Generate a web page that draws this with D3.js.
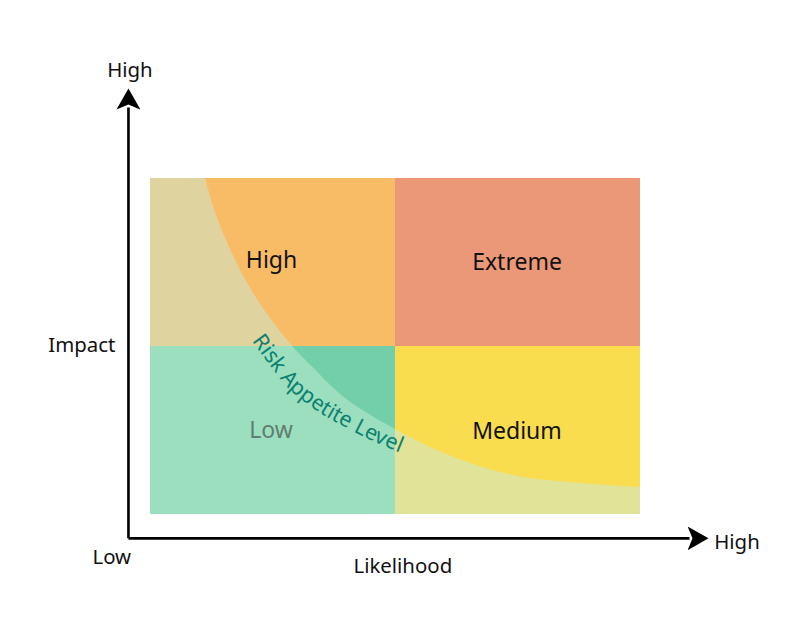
<!DOCTYPE html>
<html>
<head>
<meta charset="utf-8">
<script src="https://cdn.jsdelivr.net/npm/d3@7"></script>
<style>
  html, body { margin: 0; background: #fff; }
  text { font-family: "Noto Sans", sans-serif; }
</style>
</head>
<body>
<div id="chart"></div>
<script>
// cells of the matrix, in likelihood / impact units (0-10)
var cellNames = ['High', 'Extreme', 'Low', 'Medium']
var cellX0 = [0, 5, 0, 5]
var cellX1 = [5, 10, 5, 10]
var cellY0 = [5, 5, 0, 0]
var cellY1 = [10, 10, 5, 5]
var cellAbove = ['#f9bc66', '#eb9878', '#72cfa9', '#fadd4e']
var cellBelow = ['#dfd3a0', '#eb9878', '#9bdfbf', '#e1e398']
var labelX = [2.48, 7.49, 2.47, 7.49]
var labelY = [7.59, 7.53, 2.53, 2.50]
var labelColor = ['#111', '#111', '#5f7d70', '#111']

// the appetite curve
var curveX = [1.12, 1.37, 1.69, 2.04, 2.39, 2.92, 3.31, 3.98, 5.00, 6.06, 7.41, 8.78, 10]
var curveY = [10, 8.81, 7.71, 6.73, 5.95, 4.97, 4.38, 3.45, 2.53, 1.78, 1.16, 0.92, 0.80]

// baseline of the curved label
var captionX = [2.08, 2.55, 2.86, 3.47, 4.02, 4.59, 5.18]
var captionY = [5.15, 4.23, 3.69, 3.01, 2.56, 2.14, 1.78]

var width = 800, height = 640

var x = d3.scaleLinear().domain([0, 10]).range([150, 640])
var y = d3.scaleLinear().domain([0, 10]).range([514, 178])
// the axes run a bit further than the matrix
var xAxisScale = d3.scaleLinear().domain([-0.45, 11.0]).range([x(-0.45), x(11.0)])
var yAxisScale = d3.scaleLinear().domain([-0.71, 12.11]).range([y(-0.71), y(12.11)])

var svg = d3.select('#chart')
  .append('svg')
  .attr('width', width)
  .attr('height', height)
  .style('display', 'block')

var defs = svg.append('defs')
defs.append('marker')
  .attr('id', 'arrow')
  .attr('viewBox', '0 0 22 24')
  .attr('refX', 2)
  .attr('refY', 12)
  .attr('markerWidth', 22)
  .attr('markerHeight', 24)
  .attr('markerUnits', 'userSpaceOnUse')
  .attr('orient', 'auto')
  .append('path')
  .attr('d', 'M0,0 L21,12 L0,24 L5,12 Z')
  .attr('fill', '#000')

cellNames.forEach(function (d, i) {
  defs.append('clipPath')
    .attr('id', 'cell' + i)
    .append('rect')
    .attr('x', x(cellX0[i]))
    .attr('y', y(cellY1[i]))
    .attr('width', x(cellX1[i]) - x(cellX0[i]))
    .attr('height', y(cellY0[i]) - y(cellY1[i]))
})

var points = curveX.map(function (d, i) { return [d, curveY[i]] })
var line = d3.line()
  .x(function (d) { return x(d[0]) })
  .y(function (d) { return y(d[1]) })
  .curve(d3.curveCatmullRom)
// everything below and left of the curve
var below = line(points) +
  'L' + x(10) + ',' + y(0) + 'L' + x(0) + ',' + y(0) + 'L' + x(0) + ',' + y(10) + 'Z'

var cells = svg.selectAll('g.cell')
  .data(cellNames)
  .enter()
  .append('g')
  .attr('class', 'cell')
  .attr('clip-path', function (d, i) { return 'url(#cell' + i + ')' })
cells.append('rect')
  .attr('x', function (d, i) { return x(cellX0[i]) })
  .attr('y', function (d, i) { return y(cellY1[i]) })
  .attr('width', function (d, i) { return x(cellX1[i]) - x(cellX0[i]) })
  .attr('height', function (d, i) { return y(cellY0[i]) - y(cellY1[i]) })
  .attr('fill', function (d, i) { return cellAbove[i] })
cells.append('path')
  .attr('d', below)
  .attr('fill', function (d, i) { return cellBelow[i] })

svg.selectAll('text.cell-label')
  .data(cellNames)
  .enter()
  .append('text')
  .attr('class', 'cell-label')
  .attr('x', function (d, i) { return x(labelX[i]) })
  .attr('y', function (d, i) { return y(labelY[i]) })
  .attr('text-anchor', 'middle')
  .attr('dominant-baseline', 'central')
  .attr('font-size', 23)
  .attr('fill', function (d, i) { return labelColor[i] })
  .text(function (d) { return d })

// curved caption
var captionPoints = captionX.map(function (d, i) { return [d, captionY[i]] })
defs.append('path')
  .attr('id', 'captionPath')
  .attr('d', line(captionPoints))
svg.append('text')
  .attr('font-size', 21.5)
  .attr('fill', '#0e8070')
  .append('textPath')
  .attr('href', '#captionPath')
  .text('Risk Appetite Level')

// axes, no ticks, only the arrow lines
var xAxis = svg.append('g')
  .attr('transform', 'translate(0,' + y(-0.71) + ')')
  .call(d3.axisBottom(xAxisScale).tickValues([]).tickSize(0))
var yAxis = svg.append('g')
  .attr('transform', 'translate(' + x(-0.45) + ',0)')
  .call(d3.axisLeft(yAxisScale).tickValues([]).tickSize(0))
xAxis.select('.domain').attr('stroke', '#000').attr('stroke-width', 2.6).attr('marker-end', 'url(#arrow)')
yAxis.select('.domain').attr('stroke', '#000').attr('stroke-width', 2.6).attr('marker-end', 'url(#arrow)')

var axisLabels = ['High', 'Impact', 'Low', 'Likelihood', 'High']
var axisLabelX = [-0.41, -1.39, -0.78, 5.16, 11.98]
var axisLabelY = [13.23, 5.07, -1.26, -1.53, -0.80]
svg.selectAll('text.axis-label')
  .data(axisLabels)
  .enter()
  .append('text')
  .attr('class', 'axis-label')
  .attr('x', function (d, i) { return x(axisLabelX[i]) })
  .attr('y', function (d, i) { return y(axisLabelY[i]) })
  .attr('text-anchor', 'middle')
  .attr('dominant-baseline', 'central')
  .attr('font-size', 20.4)
  .attr('fill', '#111')
  .text(function (d) { return d })
</script>
</body>
</html>
